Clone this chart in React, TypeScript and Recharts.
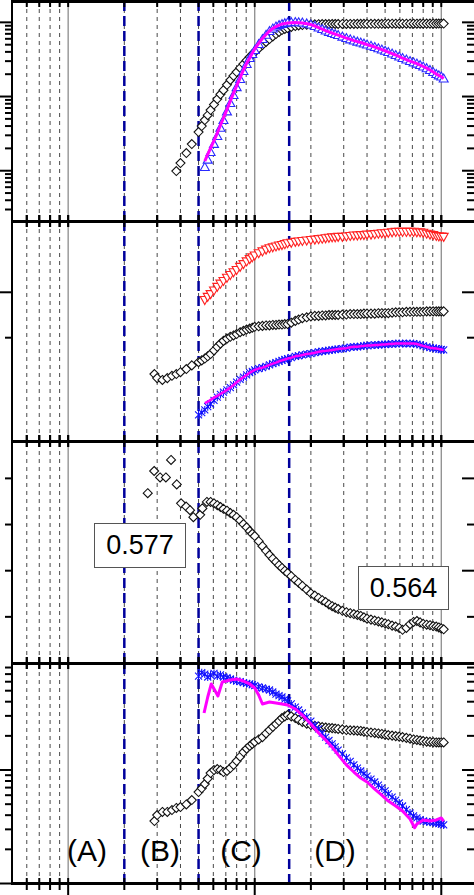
import React from 'react';
import { ComposedChart, XAxis, YAxis, Scatter, ReferenceLine } from 'recharts';

const FONT = '"Liberation Sans", Arial, Helvetica, sans-serif';

// x is on a log axis (decades at 1, 10, 100)
const X_DOMAIN: [number, number] = [0.5, 153.5];
const X_TICKS = [0.6, 0.7, 0.8, 0.9, 1, 2, 3, 4, 5, 6, 7, 8, 9, 10, 20, 30, 40, 50, 60, 70, 80, 90, 100];
const X_MAJOR = [1, 10, 100];
const REGION_LINES = [2, 5, 15.3];
const REGION_LABELS = ['(A)', '(B)', '(C)', '(D)'];

// common x sampling
const X = [2.9, 3.0, 3.2, 3.4, 3.6, 3.8, 4.0, 4.3, 4.6, 5.0, 5.2, 5.4, 5.6, 5.8, 6.05, 6.3, 6.55, 6.8, 7.1, 7.4,
  7.7, 8.0, 8.35, 8.7, 9.05, 9.4, 9.7, 10, 10.5, 11, 11.5, 12, 12.5, 13, 13.5, 14, 14.5, 15, 15.7, 16.5,
  17.2, 18, 19, 20, 21, 22, 23, 24, 25, 26, 27, 28, 29.5, 31, 32.5, 34, 35.5, 37, 38.5, 40,
  42, 44, 46, 48, 50, 52, 54.5, 57, 59.5, 62, 65, 68, 71, 74, 77, 80, 83.5, 87, 90.5, 94, 97, 100, 103];

const _ = null;

// panel 1 (log y)
const P1_BLACK = [_, _, _, _, _, 0.0099, 0.0127, 0.0173, 0.0229, 0.0332, 0.040, 0.0482, 0.056, 0.0658, 0.078, 0.0925,
  0.107, 0.122, 0.144, 0.167, 0.19, 0.214, 0.243, 0.274, 0.307, 0.341, 0.370, 0.398, 0.445, 0.494, 0.545, 0.596,
  0.645, 0.696, 0.742, 0.787, 0.815, 0.838, 0.866, 0.892, 0.908, 0.920, 0.928, 0.934, 0.940, 0.945, 0.947, 0.948,
  0.949, 0.950, 0.950, 0.950, 0.951, 0.952, 0.952, 0.952, 0.954, 0.955, 0.955, 0.955, 0.956, 0.956, 0.957, 0.957,
  0.958, 0.958, 0.958, 0.958, 0.959, 0.959, 0.960, 0.960, 0.960, 0.960, 0.961, 0.961, 0.962, 0.962, 0.962, 0.962,
  0.963, 0.963, 0.963];
const P1_BLUE = [_, _, _, _, _, _, _, _, _, _, _, 0.0112, 0.0141, 0.0179, 0.023, 0.0294, 0.038, 0.0482, 0.063, 0.0818,
  0.105, 0.134, 0.172, 0.221, 0.275, 0.330, 0.375, 0.423, 0.51, 0.596, 0.68, 0.763, 0.825, 0.878, 0.918, 0.949,
  0.975, 0.994, 1.005, 1.009, 1.003, 0.994, 0.968, 0.934, 0.893, 0.851, 0.812, 0.775, 0.745, 0.718, 0.695, 0.674,
  0.643, 0.614, 0.590, 0.568, 0.550, 0.534, 0.518, 0.502, 0.483, 0.465, 0.447, 0.430, 0.414, 0.398, 0.380, 0.363,
  0.346, 0.330, 0.315, 0.301, 0.289, 0.278, 0.266, 0.254, 0.241, 0.228, 0.214, 0.201, 0.193, 0.186, 0.175];
const P1_MAGENTA = [_, _, _, _, _, _, _, _, _, _, _, 0.0135, 0.0166, 0.0202, 0.0255, 0.0322, 0.041, 0.0513, 0.067,
  0.087, 0.111, 0.139, 0.178, 0.228, 0.280, 0.330, 0.383, 0.437, 0.52, 0.605, 0.685, 0.763, 0.825, 0.878, 0.918,
  0.949, 0.967, 0.979, 0.99, 0.994, 0.99, 0.979, 0.96, 0.934, 0.893, 0.851, 0.812, 0.775, 0.745, 0.718, 0.695,
  0.674, 0.643, 0.614, 0.590, 0.568, 0.550, 0.534, 0.518, 0.502, 0.483, 0.465, 0.447, 0.430, 0.414, 0.398, 0.380,
  0.363, 0.346, 0.330, 0.315, 0.301, 0.289, 0.278, 0.266, 0.254, 0.241, 0.228, 0.214, 0.201, 0.193, 0.186, 0.175];

// panel 2 (linear y)
const P2_RED = [_, _, _, _, _, _, _, _, _, _, _, 28.3, 29.0, 29.6, 30.4, 31.2, 31.9, 32.5, 33.2, 33.8, 34.4, 34.9,
  35.6, 36.2, 36.8, 37.3, 37.7, 38.1, 38.6, 39.0, 39.4, 39.7, 39.9, 40.1, 40.3, 40.4, 40.6, 40.8, 40.9, 41.1,
  41.2, 41.3, 41.4, 41.5, 41.6, 41.7, 41.8, 41.9, 42.0, 42.1, 42.1, 42.2, 42.2, 42.3, 42.4, 42.5, 42.5, 42.6,
  42.6, 42.7, 42.7, 42.8, 42.9, 43.0, 43.0, 43.1, 43.2, 43.3, 43.3, 43.3, 43.3, 43.3, 43.3, 43.2, 43.2, 43.1,
  42.9, 42.7, 42.6, 42.4, 42.3, 42.3, 42.2];
const P2_BLACK = [12.0, 11.1, 10.7, 11.1, 11.6, 12.0, 12.4, 13.1, 13.9, 14.6, 15.0, 15.4, 15.9, 16.4, 17.2, 18.0,
  18.7, 19.3, 19.8, 20.2, 20.5, 20.8, 21.2, 21.5, 21.8, 22.0, 22.2, 22.4, 22.5, 22.6, 22.7, 22.7, 22.8, 22.8,
  22.9, 22.9, 23.0, 23.0, 23.3, 23.7, 24.0, 24.3, 24.5, 24.7, 24.8, 24.8, 24.9, 24.9, 25.0, 25.0, 25.0, 25.0,
  25.1, 25.1, 25.2, 25.2, 25.2, 25.2, 25.3, 25.3, 25.3, 25.3, 25.4, 25.4, 25.4, 25.4, 25.5, 25.6, 25.6, 25.6,
  25.7, 25.7, 25.7, 25.7, 25.7, 25.7, 25.8, 25.8, 25.8, 25.8, 25.8, 25.8, 25.8];
const P2_BLUE = [_, _, _, _, _, _, _, _, _, 3.0, 3.5, 4.1, 4.8, 5.4, 6.2, 6.9, 7.5, 8.0, 8.5, 9.0, 9.6, 10.2, 10.8,
  11.3, 11.8, 12.3, 12.6, 12.9, 13.2, 13.4, 13.7, 14.0, 14.3, 14.5, 14.8, 15.0, 15.2, 15.4, 15.6, 15.9, 16.0,
  16.2, 16.4, 16.5, 16.7, 16.9, 17.0, 17.1, 17.2, 17.3, 17.4, 17.5, 17.6, 17.7, 17.9, 18.0, 18.0, 18.1, 18.2,
  18.3, 18.3, 18.4, 18.4, 18.5, 18.5, 18.6, 18.6, 18.7, 18.7, 18.7, 18.7, 18.7, 18.7, 18.6, 18.4, 18.2, 18.0,
  17.8, 17.7, 17.6, 17.5, 17.4, 17.3];
const P2_MAGENTA = [_, _, _, _, _, _, _, _, _, _, _, 5.6, 5.9, 6.3, 6.8, 7.2, 7.6, 8.0, 8.5, 9.0, 9.6, 10.2, 10.8,
  11.3, 11.8, 12.3, 12.6, 12.9, 13.2, 13.4, 13.7, 14.0, 14.3, 14.5, 14.8, 15.0, 15.2, 15.4, 15.6, 15.9, 16.0,
  16.2, 16.4, 16.5, 16.7, 16.9, 17.0, 17.1, 17.2, 17.3, 17.4, 17.5, 17.6, 17.7, 17.9, 18.0, 18.0, 18.1, 18.2,
  18.3, 18.3, 18.4, 18.4, 18.5, 18.5, 18.6, 18.6, 18.7, 18.7, 18.7, 18.7, 18.7, 18.7, 18.6, 18.4, 18.2, 18.0,
  17.8, 17.7, 17.6, 17.5, 17.4, 17.3];

// panel 3 (linear y)
const P3_SCATTER_X = [2.67, 2.89, 3.11, 3.34, 3.56, 3.82, 4.03, 4.29, 4.5, 4.69, 5.1, 5.24, 5.54];
const P3_SCATTER_Y = [3.68, 4.16, 4.02, 4.02, 4.40, 3.87, 3.46, 3.39, 3.31, 3.16, 3.21, 3.35, 3.49];
const P3_BLACK = [_, _, _, _, _, _, _, _, _, _, _, _, _, 3.49, 3.46, 3.42, 3.38, 3.34, 3.30, 3.25, 3.21, 3.16, 3.09,
  3.01, 2.94, 2.86, 2.80, 2.75, 2.64, 2.53, 2.43, 2.34, 2.26, 2.19, 2.12, 2.06, 2.00, 1.95, 1.88, 1.80, 1.74,
  1.67, 1.59, 1.51, 1.46, 1.41, 1.36, 1.32, 1.27, 1.23, 1.20, 1.17, 1.13, 1.10, 1.08, 1.06, 1.04, 1.02, 0.99,
  0.96, 0.94, 0.92, 0.90, 0.88, 0.86, 0.84, 0.81, 0.79, 0.76, 0.72, 0.76, 0.84, 0.89, 0.91, 0.88, 0.85, 0.83,
  0.82, 0.80, 0.79, 0.77, 0.75, 0.73];

// panel 4 (log y)
const P4_BLACK = [0.355, 0.401, 0.427, 0.427, 0.444, 0.463, 0.472, 0.497, 0.544, 0.640, 0.69, 0.753, 0.84, 0.941,
  1.0, 1.02, 1.0, 0.96, 0.98, 1.04, 1.11, 1.20, 1.31, 1.44, 1.54, 1.63, 1.70, 1.77, 1.86, 1.95, 2.10, 2.25, 2.40,
  2.54, 2.70, 2.87, 2.97, 3.05, 2.97, 2.87, 2.76, 2.65, 2.56, 2.49, 2.45, 2.42, 2.39, 2.37, 2.35, 2.34, 2.32,
  2.30, 2.28, 2.25, 2.24, 2.23, 2.22, 2.21, 2.18, 2.16, 2.14, 2.12, 2.10, 2.08, 2.05, 2.03, 2.01, 1.99, 1.97,
  1.95, 1.92, 1.89, 1.86, 1.84, 1.82, 1.80, 1.78, 1.77, 1.76, 1.75, 1.75, 1.75, 1.75];
const P4_BLUE = [_, _, _, _, _, _, _, _, _, 6.73, 7.2, 7.01, 6.6, 6.87, 7.1, 6.73, 6.9, 6.60, 6.5, 6.34, 6.2, 6.08,
  6.0, 5.90, 5.8, 5.73, 5.64, 5.55, 5.4, 5.28, 5.17, 5.07, 4.87, 4.67, 4.53, 4.40, 4.22, 4.06, 3.82, 3.59, 3.38,
  3.18, 2.93, 2.70, 2.49, 2.30, 2.11, 1.95, 1.82, 1.70, 1.60, 1.50, 1.39, 1.28, 1.19, 1.11, 1.04, 0.980, 0.93,
  0.885, 0.83, 0.784, 0.737, 0.694, 0.654, 0.615, 0.578, 0.544, 0.512, 0.482, 0.448, 0.418, 0.395, 0.378, 0.365,
  0.355, 0.351, 0.348, 0.344, 0.341, 0.337, 0.334, 0.328];
const P4_MAGENTA_X = [5.35, 5.6, 5.85, 6.1, 6.35, 6.7, 7.4, 8.0, 8.7, 9.4, 10, 10.5, 11, 12, 13, 14, 15, 16.5, 18,
  20, 22, 24, 26, 28, 31, 34, 37, 40, 44, 48, 52, 57, 62, 68, 72, 74, 80, 87, 94, 100, 103];
const P4_MAGENTA_Y = [3.18, 4.40, 5.73, 5.07, 4.49, 5.96, 6.21, 6.34, 6.08, 5.73, 5.28, 4.58, 3.82, 3.97, 3.89,
  3.82, 3.74, 3.45, 3.05, 2.54, 2.12, 1.84, 1.59, 1.36, 1.11, 0.960, 0.850, 0.784, 0.680, 0.602, 0.533, 0.482,
  0.435, 0.370, 0.310, 0.334, 0.363, 0.355, 0.363, 0.378, 0.355];

const PLOT_W = 464;

const toPts = (xs: number[], ys: (number | null)[]) =>
  xs.map((x, i) => ({ x, y: ys[i] })).filter((p) => p.y != null);

const Diamond = ({ cx, cy }: any) => (
  <path d={`M${cx},${cy - 4.5}L${cx + 4.5},${cy}L${cx},${cy + 4.5}L${cx - 4.5},${cy}Z`} fill="#fff" stroke="#111" strokeWidth={1.1} />
);
const TriUp = ({ cx, cy }: any) => (
  <path d={`M${cx},${cy - 4.5}L${cx + 4.5},${cy + 3.5}L${cx - 4.5},${cy + 3.5}Z`} fill="#fff" stroke="#2a2aff" strokeWidth={1.1} />
);
const TriDown = ({ cx, cy }: any) => (
  <path d={`M${cx},${cy + 4.5}L${cx + 4.5},${cy - 3.5}L${cx - 4.5},${cy - 3.5}Z`} fill="#fff" stroke="#ff2020" strokeWidth={1.1} />
);
const Star = ({ cx, cy }: any) => (
  <path d={`M${cx - 3.5},${cy - 3.5}L${cx + 3.5},${cy + 3.5}M${cx - 3.5},${cy + 3.5}L${cx + 3.5},${cy - 3.5}M${cx},${cy - 4}L${cx},${cy + 4}`} fill="none" stroke="#1010ff" strokeWidth={1.1} />
);
const NoDot = () => <g />;

const SHAPES: Record<string, (p: any) => React.ReactElement> = {
  diamond: (p) => <Diamond {...p} />,
  tri: (p) => <TriUp {...p} />,
  triDown: (p) => <TriDown {...p} />,
  star: (p) => <Star {...p} />,
};

type Series = { kind: string; xs: number[]; ys: (number | null)[]; color?: string; width?: number };

const XTick = ({ x, y, payload, plotH, last }: any) => {
  const major = X_MAJOR.includes(payload.value);
  const down = last && major ? 12 : 6;
  return (
    <g stroke="#000" strokeWidth={2}>
      <line x1={x} x2={x} y1={y - 6} y2={y + down} />
      <line x1={x} x2={x} y1={y - plotH - 6} y2={y - plotH + 6} />
    </g>
  );
};

const YTick = ({ x, y, payload, majorL, majorR }: any) => {
  const l = majorL.includes(payload.value) ? 12 : 7;
  const r = majorR.includes(payload.value) ? 14 : 9;
  return (
    <g stroke="#000" strokeWidth={2}>
      <line x1={x - l} x2={x} y1={y} y2={y} />
      <line x1={x + PLOT_W - r} x2={x + PLOT_W} y1={y} y2={y} />
    </g>
  );
};

type PanelProps = {
  top: number;
  plotH: number;
  yScale: 'log' | 'linear';
  yDomain: [number, number];
  yTicks: number[];
  majorL: number[];
  majorR: number[];
  series: Series[];
  last?: boolean;
  gap?: { x: [number, number]; y: number };
};

function Panel({ top, plotH, yScale, yDomain, yTicks, majorL, majorR, series, last, gap }: PanelProps) {
  return (
    <div style={{ position: 'absolute', left: 0, top: top - 10 }}>
      <ComposedChart width={480} height={plotH + 24} margin={{ top: 10, right: 4, bottom: 13, left: 0 }}>
        <XAxis
          dataKey="x" type="number" scale="log" domain={X_DOMAIN} allowDataOverflow
          ticks={X_TICKS} interval={0} tickSize={0} tickMargin={0} height={1} axisLine={false}
          tick={(p: any) => <XTick {...p} plotH={plotH} last={last} />}
        />
        <YAxis
          dataKey="y" type="number" scale={yScale} domain={yDomain} allowDataOverflow
          ticks={yTicks} interval={0} tickSize={0} tickMargin={0} width={12} axisLine={false}
          tick={(p: any) => <YTick {...p} majorL={majorL} majorR={majorR} />}
        />
        {X_TICKS.map((v) => {
          const major = X_MAJOR.includes(v);
          const cut = gap && v > gap.x[0] && v < gap.x[1];
          return (
            <ReferenceLine
              key={`g${v}`}
              x={v}
              segment={cut ? [{ x: v, y: gap!.y }, { x: v, y: yDomain[1] }] : undefined}
              stroke={major ? '#8c8c8c' : '#4a4a4a'}
              strokeWidth={major ? 1.3 : 1}
              strokeDasharray={major ? undefined : '4 4'}
              ifOverflow="visible"
            />
          );
        })}
        {REGION_LINES.map((v) => (
          <ReferenceLine key={`r${v}`} x={v} stroke="#00009c" strokeWidth={2.5} strokeDasharray="10 5" />
        ))}
        {series.map((s, i) =>
          s.kind === 'line' ? (
            <Scatter
              key={i} data={toPts(s.xs, s.ys)} shape={NoDot} fill={s.color} lineType="joint"
              line={{ stroke: s.color, strokeWidth: s.width ?? 3, strokeLinejoin: 'round' }}
              isAnimationActive={false}
            />
          ) : (
            <Scatter key={i} data={toPts(s.xs, s.ys)} shape={SHAPES[s.kind]} isAnimationActive={false} />
          )
        )}
      </ComposedChart>
    </div>
  );
}

const boxStyle: React.CSSProperties = {
  position: 'absolute',
  boxSizing: 'border-box',
  border: '1px solid #555',
  background: '#fff',
  display: 'flex',
  alignItems: 'center',
  justifyContent: 'center',
  fontFamily: FONT,
  fontSize: 27,
  lineHeight: 1,
  color: '#000',
};

const LABEL_CENTERS = [87, 160, 241, 335];
const BORDERS_Y = [1, 221, 441, 663, 883.5];

export default function App() {
  return (
    <div style={{ position: 'absolute', left: 0, top: 0, width: 474, height: 895, overflow: 'hidden', background: '#fff' }}>
      <Panel
        top={1} plotH={220} yScale="log" yDomain={[0.0021, 1.94]}
        yTicks={[0.003, 0.004, 0.005, 0.006, 0.007, 0.008, 0.009, 0.01, 0.02, 0.03, 0.04, 0.05, 0.06, 0.07, 0.08, 0.09,
          0.1, 0.2, 0.3, 0.4, 0.5, 0.6, 0.7, 0.8, 0.9, 1]}
        majorL={[0.01, 0.1, 1]} majorR={[0.01, 0.1, 1]}
        series={[
          { kind: 'diamond', xs: X, ys: P1_BLACK },
          { kind: 'tri', xs: X, ys: P1_BLUE },
          { kind: 'line', xs: X, ys: P1_MAGENTA, color: '#ff00ff', width: 3 },
        ]}
      />
      <Panel
        top={221} plotH={220} yScale="linear" yDomain={[-2.75, 45.7]}
        yTicks={[20, 30]} majorL={[30]} majorR={[30]}
        series={[
          { kind: 'triDown', xs: X, ys: P2_RED },
          { kind: 'diamond', xs: X, ys: P2_BLACK },
          { kind: 'star', xs: X, ys: P2_BLUE },
          { kind: 'line', xs: X, ys: P2_MAGENTA, color: '#ff00ff', width: 2.5 },
        ]}
      />
      <Panel
        top={441} plotH={222} yScale="linear" yDomain={[0, 4.81]}
        yTicks={[1, 2, 3, 4]} majorL={[]} majorR={[2, 4]}
        series={[
          { kind: 'diamond', xs: P3_SCATTER_X, ys: P3_SCATTER_Y },
          { kind: 'diamond', xs: X, ys: P3_BLACK },
        ]}
      />
      <Panel
        top={663} plotH={221} yScale="log" yDomain={[0.099, 8.77]} last
        yTicks={[0.1, 0.2, 0.3, 0.4, 0.5, 0.6, 0.7, 0.8, 0.9, 1, 2, 3, 4, 5, 6, 7, 8]}
        majorL={[0.1, 1]} majorR={[0.1, 1]}
        gap={{ x: [0.85, 35], y: 0.326 }}
        series={[
          { kind: 'diamond', xs: X, ys: P4_BLACK },
          { kind: 'star', xs: X, ys: P4_BLUE },
          { kind: 'line', xs: P4_MAGENTA_X, ys: P4_MAGENTA_Y, color: '#ff00ff', width: 3 },
        ]}
      />
      {BORDERS_Y.map((y) => (
        <div key={y} style={{ position: 'absolute', left: 11, top: y - 1.5, width: 470, height: 3, background: '#000' }} />
      ))}
      <div style={{ position: 'absolute', left: 10.75, top: 0, width: 2.5, height: 884.5, background: '#000' }} />
      <div style={{ ...boxStyle, left: 94, top: 523, width: 92, height: 45 }}>0.577</div>
      <div style={{ ...boxStyle, left: 358, top: 566, width: 91, height: 44 }}>0.564</div>
      {REGION_LABELS.map((t, i) => (
        <div
          key={t}
          style={{
            position: 'absolute', left: LABEL_CENTERS[i] - 40, top: 836, width: 80, textAlign: 'center',
            fontFamily: FONT, fontSize: 30, lineHeight: 1, color: '#000',
          }}
        >
          {t}
        </div>
      ))}
    </div>
  );
}
